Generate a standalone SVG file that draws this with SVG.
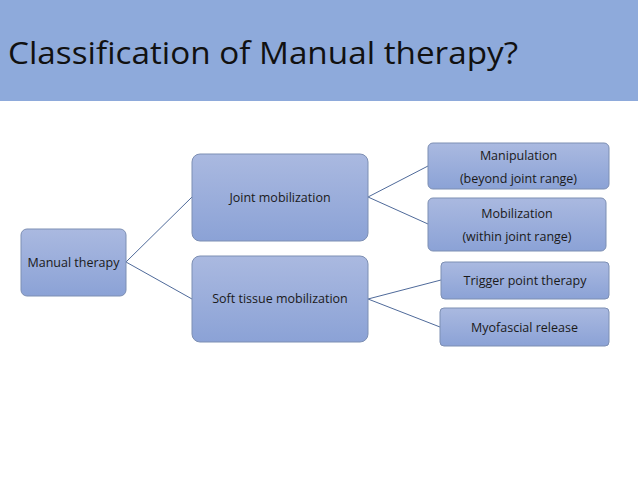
<svg xmlns="http://www.w3.org/2000/svg" width="638" height="479" viewBox="0 0 638 479">
<defs>
<linearGradient id="g" x1="0" y1="0" x2="0" y2="1"><stop offset="0" stop-color="#aab9e0"/><stop offset="1" stop-color="#8ba2d6"/></linearGradient>
<style>
.b{fill:url(#g);stroke:#7d8fb3;stroke-width:1}
.t{font-family:"Open Sans","Liberation Sans",sans-serif;font-size:12.5px;fill:#1a1a1a;text-anchor:middle}
.c{stroke:#4f6a9a;stroke-width:1;fill:none}
</style>
</defs>
<rect width="638" height="479" fill="#fff"/>
<rect width="638" height="101" fill="#8eaadb"/>
<text x="8" y="64" font-family="'Open Sans','Liberation Sans',sans-serif" font-size="31" fill="#111" textLength="510" lengthAdjust="spacingAndGlyphs">Classification of Manual therapy?</text>
<g id="connectors">
<path class="c" d="M126 262L192 197M126 262L192 299M368 197L428 166M368 197L428 224M368 299L441 280M368 299L440 327"/>
</g>
<g id="n1"><rect class="b" x="21" y="229" width="105" height="67" rx="6"/><text class="t" x="73.5" y="267">Manual therapy</text></g>
<g id="n2"><rect class="b" x="192" y="154" width="176" height="87" rx="8"/><text class="t" x="280" y="202">Joint mobilization</text></g>
<g id="n3"><rect class="b" x="192" y="256" width="176" height="86" rx="8"/><text class="t" x="280" y="303">Soft tissue mobilization</text></g>
<g id="n4"><rect class="b" x="428" y="143" width="181" height="46" rx="5"/><text class="t" x="518.5" y="160">Manipulation</text><text class="t" x="518.5" y="183">(beyond joint range)</text></g>
<g id="n5"><rect class="b" x="428" y="198" width="178" height="53" rx="5"/><text class="t" x="517" y="218">Mobilization</text><text class="t" x="517" y="241">(within joint range)</text></g>
<g id="n6"><rect class="b" x="441" y="262" width="168" height="37" rx="4"/><text class="t" x="525" y="285">Trigger point therapy</text></g>
<g id="n7"><rect class="b" x="440" y="308" width="169" height="38" rx="4"/><text class="t" x="524.5" y="332">Myofascial release</text></g>
</svg>
